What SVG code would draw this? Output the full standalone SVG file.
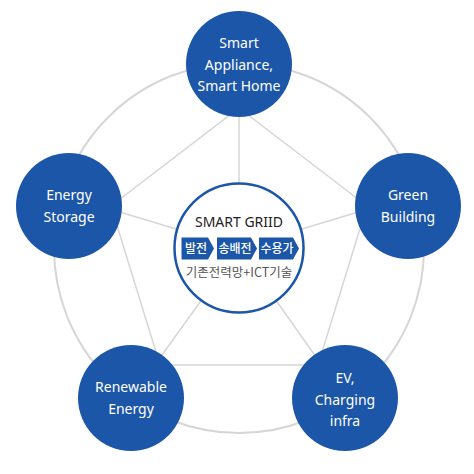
<svg xmlns="http://www.w3.org/2000/svg" width="474" height="474" viewBox="0 0 474 474">
<style>
.ln{stroke:#d6d6d6;stroke-width:1.5;fill:none}
.outer{stroke:#d6d6d6;stroke-width:2;fill:none}
.node{fill:#1b56a8}
.nt{font-family:"Noto Sans","Noto Sans CJK KR",sans-serif;font-size:14px;fill:#ffffff;text-anchor:middle}
.tag{fill:#1b56a8}
.tt{font-family:"Noto Sans CJK KR","Noto Sans",sans-serif;font-size:12px;fill:#ffffff;text-anchor:middle;font-weight:500}
</style>
<rect width="474" height="474" fill="#ffffff"/>
<g id="connectors">
<circle class="outer" cx="239" cy="248" r="185"/>
<polygon class="ln" points="239,108 367,206 318,365 160,365 111,206"/>
<line class="ln" x1="239" y1="248" x2="239" y2="90"/>
<line class="ln" x1="239" y1="248" x2="90" y2="203"/>
<line class="ln" x1="239" y1="248" x2="388" y2="203"/>
<line class="ln" x1="239" y1="248" x2="131" y2="398"/>
<line class="ln" x1="239" y1="248" x2="345" y2="398"/>
</g>
<g id="node-smart-appliance">
<circle class="node" cx="239" cy="64" r="53"/>
<text class="nt" x="239" y="48">Smart</text>
<text class="nt" x="239" y="70">Appliance,</text>
<text class="nt" x="239" y="91">Smart Home</text>
</g>
<g id="node-energy-storage">
<circle class="node" cx="69" cy="206" r="53"/>
<text class="nt" x="69" y="200">Energy</text>
<text class="nt" x="69" y="222">Storage</text>
</g>
<g id="node-green-building">
<circle class="node" cx="408" cy="206" r="53"/>
<text class="nt" x="408" y="200">Green</text>
<text class="nt" x="408" y="222">Building</text>
</g>
<g id="node-renewable-energy">
<circle class="node" cx="131" cy="398" r="53"/>
<text class="nt" x="131" y="392">Renewable</text>
<text class="nt" x="131" y="414">Energy</text>
</g>
<g id="node-ev">
<circle class="node" cx="345" cy="398" r="53"/>
<text class="nt" x="345" y="383">EV,</text>
<text class="nt" x="345" y="405">Charging</text>
<text class="nt" x="345" y="426">infra</text>
</g>
<g id="node-smart-grid">
<circle cx="239" cy="248" r="64.5" fill="#ffffff" stroke="#1b56a8" stroke-width="2.5"/>
<text x="239" y="227" font-family="Noto Sans, Noto Sans CJK KR, sans-serif" font-size="14" fill="#222222" text-anchor="middle">SMART GRIID</text>
<polygon class="tag" points="181.5,237.5 208,237.5 214,248.5 208,259.5 181.5,259.5"/>
<polygon class="tag" points="217,237.5 251,237.5 257,248.5 251,259.5 217,259.5"/>
<polygon class="tag" points="259,237.5 293,237.5 299,248.5 293,259.5 259,259.5"/>
<text class="tt" x="196" y="253">발전</text>
<text class="tt" x="235" y="253">송배전</text>
<text class="tt" x="277" y="253">수용가</text>
<text x="239" y="277" font-family="Noto Sans CJK KR, sans-serif" font-size="12.5" fill="#555555" text-anchor="middle">기존전력망+ICT기술</text>
</g>
</svg>
